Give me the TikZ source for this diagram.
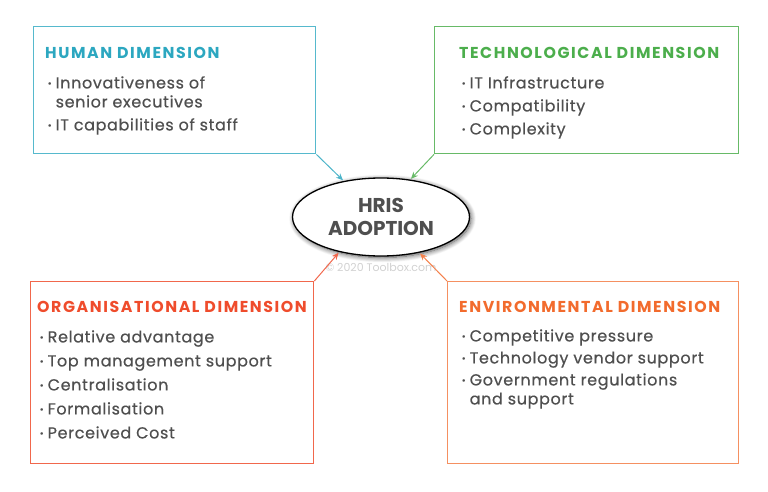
\documentclass[tikz,border=0pt]{standalone}
\usepackage{fontspec}
\setmainfont{Poppins}
\newfontfamily\bodyfont{Poppins}[LetterSpace=4,FakeBold=0.5]
\newfontfamily\headfont{Poppins}[LetterSpace=10]
\usetikzlibrary{shapes.geometric,shadows.blur,arrows.meta}

\definecolor{humcol}{HTML}{2CA7C0}
\definecolor{teccol}{HTML}{4CAE4C}
\definecolor{orgcol}{HTML}{EF4C2C}
\definecolor{envcol}{HTML}{F26B2D}
\definecolor{txtgray}{HTML}{4F4F4F}

\newcommand\itm{\hspace*{2.5pt}\makebox[8pt][l]{\raisebox{1.8pt}{\scalebox{0.6}{•}}}}
\newcommand\ttl[2]{{\headfont\bfseries\fontsize{15.8}{19}\selectfont\color{#1}#2}}

\tikzset{
  dimbox/.style={draw=#1, line width=1.4pt, rectangle, anchor=north west, inner sep=0pt},
  dimtxt/.style={anchor=north west, inner sep=0pt, align=left, text=txtgray,
    font=\bodyfont\fontsize{16}{19}\selectfont},
  feed/.style={draw=#1!85, line width=1pt, -{Stealth[length=7pt,width=6pt]}, shorten >=1pt}
}

\begin{document}
\begin{tikzpicture}[x=1pt,y=-1pt]
  \useasboundingbox (0,0) rectangle (768,492);

  % the four boxes
  \node[dimbox=humcol!80, minimum width=282pt, minimum height=127pt] (human) at (33,26) {};
  \node[dimbox=teccol!85, minimum width=304pt, minimum height=127pt] (tech) at (434,26) {};
  \node[dimbox=orgcol!85, minimum width=283pt, minimum height=182pt] (org) at (30,281) {};
  \node[dimbox=envcol!75, minimum width=291pt, minimum height=182pt] (env) at (447,281) {};

  % texts
  \node[dimtxt] (humantxt) at (45,47) {\ttl{humcol}{HUMAN DIMENSION}\\[11pt]
    \itm Innovativeness of\\ \hspace*{10.5pt}senior executives\\[4pt]
    \itm IT capabilities of staff};
  \node[dimtxt] (techtxt) at (459,47) {\ttl{teccol}{TECHNOLOGICAL DIMENSION}\\[11pt]
    \itm IT Infrastructure\\[4pt] \itm Compatibility\\[4pt] \itm Complexity};
  \node[dimtxt] (orgtxt) at (37,301) {\ttl{orgcol}{ORGANISATIONAL DIMENSION}\\[11pt]
    \itm Relative advantage\\[5pt] \itm Top management support\\[5pt]
    \itm Centralisation\\[5pt] \itm Formalisation\\[5pt] \itm Perceived Cost};
  \node[dimtxt] (envtxt) at (459,301) {\ttl{envcol}{ENVIRONMENTAL DIMENSION}\\[10pt]
    \itm Competitive pressure\\[3pt] \itm Technology vendor support\\[3pt]
    \itm Government regulations\\ \hspace*{10.5pt}and support};

  % centre
  \node[ellipse, draw=black, line width=1.3pt, fill=white, minimum width=177pt, minimum height=78pt,
    inner sep=0pt, align=center, text=txtgray, font=\fontsize{20}{23}\selectfont\bfseries,
    blur shadow={shadow xshift=1.5pt, shadow yshift=-1.5pt, shadow blur steps=10, shadow blur radius=5pt, shadow opacity=70}]
    (hris) at (381,217) {HRIS\\ADOPTION};
  \node[text=black!18, font=\fontsize{11}{13}\selectfont] (mark) at (381,267) {© 2020 Toolbox.com};

  % connectors
  \draw[feed=humcol] (human.south east) -- (hris.136);
  \draw[feed=teccol] (tech.south west) -- (hris.52);
  \draw[feed=orgcol] (org.north east) -- (hris.220);
  \draw[feed=envcol] (env.north west) -- (hris.317);
\end{tikzpicture}
\end{document}
